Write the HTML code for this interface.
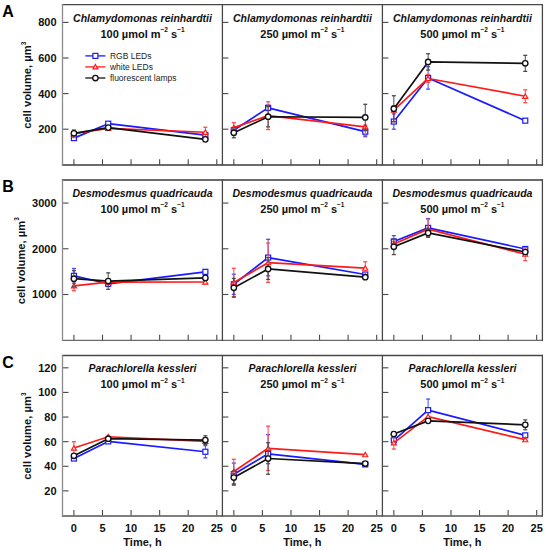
<!DOCTYPE html>
<html><head><meta charset="utf-8"><style>
html,body{margin:0;padding:0;background:#fff;}
body{width:549px;height:550px;overflow:hidden;}
svg{display:block;font-family:"Liberation Sans",sans-serif;}
</style></head><body>
<svg width="549" height="550" viewBox="0 0 549 550" fill="#111">
<line x1="62.50" y1="129.20" x2="68.50" y2="129.20" stroke="#484848" stroke-width="1.1"/>
<line x1="62.50" y1="93.60" x2="68.50" y2="93.60" stroke="#484848" stroke-width="1.1"/>
<line x1="62.50" y1="58.00" x2="68.50" y2="58.00" stroke="#484848" stroke-width="1.1"/>
<line x1="62.50" y1="22.40" x2="68.50" y2="22.40" stroke="#484848" stroke-width="1.1"/>
<line x1="73.93" y1="164.80" x2="73.93" y2="159.30" stroke="#484848" stroke-width="1.1"/>
<line x1="102.50" y1="164.80" x2="102.50" y2="159.30" stroke="#484848" stroke-width="1.1"/>
<line x1="131.07" y1="164.80" x2="131.07" y2="159.30" stroke="#484848" stroke-width="1.1"/>
<line x1="159.64" y1="164.80" x2="159.64" y2="159.30" stroke="#484848" stroke-width="1.1"/>
<line x1="188.21" y1="164.80" x2="188.21" y2="159.30" stroke="#484848" stroke-width="1.1"/>
<line x1="216.79" y1="164.80" x2="216.79" y2="159.30" stroke="#484848" stroke-width="1.1"/>
<g stroke="#4848ff" stroke-width="1"><line x1="73.93" y1="136.68" x2="73.93" y2="139.52"/><line x1="71.93" y1="136.68" x2="75.93" y2="136.68" stroke-width="1.3"/><line x1="71.93" y1="139.52" x2="75.93" y2="139.52" stroke-width="1.3"/></g>
<g stroke="#4848ff" stroke-width="1"><line x1="108.21" y1="121.90" x2="108.21" y2="125.46"/><line x1="106.21" y1="121.90" x2="110.21" y2="121.90" stroke-width="1.3"/><line x1="106.21" y1="125.46" x2="110.21" y2="125.46" stroke-width="1.3"/></g>
<g stroke="#4848ff" stroke-width="1"><line x1="205.36" y1="133.65" x2="205.36" y2="136.50"/><line x1="203.36" y1="133.65" x2="207.36" y2="133.65" stroke-width="1.3"/><line x1="203.36" y1="136.50" x2="207.36" y2="136.50" stroke-width="1.3"/></g>
<polyline points="73.93,138.10 108.21,123.68 205.36,135.07" fill="none" stroke="#1a1aff" stroke-width="1.7" stroke-linejoin="round"/>
<rect x="71.43" y="135.60" width="5.00" height="5.00" fill="#fff" stroke="#1a1aff" stroke-width="1.2"/>
<rect x="105.71" y="121.18" width="5.00" height="5.00" fill="#fff" stroke="#1a1aff" stroke-width="1.2"/>
<rect x="202.86" y="132.57" width="5.00" height="5.00" fill="#fff" stroke="#1a1aff" stroke-width="1.2"/>
<g stroke="#ff4848" stroke-width="1"><line x1="73.93" y1="129.73" x2="73.93" y2="137.57"/><line x1="71.93" y1="129.73" x2="75.93" y2="129.73" stroke-width="1.3"/><line x1="71.93" y1="137.57" x2="75.93" y2="137.57" stroke-width="1.3"/></g>
<g stroke="#ff4848" stroke-width="1"><line x1="108.21" y1="126.89" x2="108.21" y2="129.73"/><line x1="106.21" y1="126.89" x2="110.21" y2="126.89" stroke-width="1.3"/><line x1="106.21" y1="129.73" x2="110.21" y2="129.73" stroke-width="1.3"/></g>
<g stroke="#ff4848" stroke-width="1"><line x1="205.36" y1="127.24" x2="205.36" y2="137.21"/><line x1="203.36" y1="127.24" x2="207.36" y2="127.24" stroke-width="1.3"/><line x1="203.36" y1="137.21" x2="207.36" y2="137.21" stroke-width="1.3"/></g>
<polyline points="73.93,133.65 108.21,128.31 205.36,132.23" fill="none" stroke="#ff1a1a" stroke-width="1.7" stroke-linejoin="round"/>
<polygon points="73.93,131.30 76.43,135.70 71.43,135.70" fill="#fff" stroke="#ff1a1a" stroke-width="1.2" stroke-linejoin="miter"/>
<polygon points="108.21,125.96 110.71,130.36 105.71,130.36" fill="#fff" stroke="#ff1a1a" stroke-width="1.2" stroke-linejoin="miter"/>
<polygon points="205.36,129.88 207.86,134.28 202.86,134.28" fill="#fff" stroke="#ff1a1a" stroke-width="1.2" stroke-linejoin="miter"/>
<g stroke="#4a4a4a" stroke-width="1"><line x1="73.93" y1="131.16" x2="73.93" y2="135.43"/><line x1="71.93" y1="131.16" x2="75.93" y2="131.16" stroke-width="1.3"/><line x1="71.93" y1="135.43" x2="75.93" y2="135.43" stroke-width="1.3"/></g>
<g stroke="#4a4a4a" stroke-width="1"><line x1="108.21" y1="126.17" x2="108.21" y2="129.02"/><line x1="106.21" y1="126.17" x2="110.21" y2="126.17" stroke-width="1.3"/><line x1="106.21" y1="129.02" x2="110.21" y2="129.02" stroke-width="1.3"/></g>
<g stroke="#4a4a4a" stroke-width="1"><line x1="205.36" y1="137.92" x2="205.36" y2="140.77"/><line x1="203.36" y1="137.92" x2="207.36" y2="137.92" stroke-width="1.3"/><line x1="203.36" y1="140.77" x2="207.36" y2="140.77" stroke-width="1.3"/></g>
<polyline points="73.93,133.29 108.21,127.60 205.36,139.35" fill="none" stroke="#111111" stroke-width="1.7" stroke-linejoin="round"/>
<circle cx="73.93" cy="133.29" r="2.7" fill="#fff" stroke="#111111" stroke-width="1.35"/>
<circle cx="108.21" cy="127.60" r="2.7" fill="#fff" stroke="#111111" stroke-width="1.35"/>
<circle cx="205.36" cy="139.35" r="2.7" fill="#fff" stroke="#111111" stroke-width="1.35"/>
<text x="142.50" y="21.90" text-anchor="middle" font-size="10.5" font-weight="bold" font-style="italic">Chlamydomonas reinhardtii</text>
<text x="142.50" y="37.90" text-anchor="middle" font-size="11" font-weight="bold">100 µmol m<tspan font-size="6.5" dy="-5.6">−2</tspan><tspan dy="5.6"> s</tspan><tspan font-size="6.5" dy="-5.6">−1</tspan></text>
<line x1="222.40" y1="129.20" x2="228.40" y2="129.20" stroke="#484848" stroke-width="1.1"/>
<line x1="222.40" y1="93.60" x2="228.40" y2="93.60" stroke="#484848" stroke-width="1.1"/>
<line x1="222.40" y1="58.00" x2="228.40" y2="58.00" stroke="#484848" stroke-width="1.1"/>
<line x1="222.40" y1="22.40" x2="228.40" y2="22.40" stroke="#484848" stroke-width="1.1"/>
<line x1="233.83" y1="164.80" x2="233.83" y2="159.30" stroke="#484848" stroke-width="1.1"/>
<line x1="262.40" y1="164.80" x2="262.40" y2="159.30" stroke="#484848" stroke-width="1.1"/>
<line x1="290.97" y1="164.80" x2="290.97" y2="159.30" stroke="#484848" stroke-width="1.1"/>
<line x1="319.54" y1="164.80" x2="319.54" y2="159.30" stroke="#484848" stroke-width="1.1"/>
<line x1="348.11" y1="164.80" x2="348.11" y2="159.30" stroke="#484848" stroke-width="1.1"/>
<line x1="376.69" y1="164.80" x2="376.69" y2="159.30" stroke="#484848" stroke-width="1.1"/>
<g stroke="#4848ff" stroke-width="1"><line x1="233.83" y1="128.49" x2="233.83" y2="132.05"/><line x1="231.83" y1="128.49" x2="235.83" y2="128.49" stroke-width="1.3"/><line x1="231.83" y1="132.05" x2="235.83" y2="132.05" stroke-width="1.3"/></g>
<g stroke="#4848ff" stroke-width="1"><line x1="268.11" y1="105.17" x2="268.11" y2="110.51"/><line x1="266.11" y1="105.17" x2="270.11" y2="105.17" stroke-width="1.3"/><line x1="266.11" y1="110.51" x2="270.11" y2="110.51" stroke-width="1.3"/></g>
<g stroke="#4848ff" stroke-width="1"><line x1="365.26" y1="126.71" x2="365.26" y2="136.68"/><line x1="363.26" y1="126.71" x2="367.26" y2="126.71" stroke-width="1.3"/><line x1="363.26" y1="136.68" x2="367.26" y2="136.68" stroke-width="1.3"/></g>
<polyline points="233.83,130.27 268.11,107.84 365.26,131.69" fill="none" stroke="#1a1aff" stroke-width="1.7" stroke-linejoin="round"/>
<rect x="231.33" y="127.77" width="5.00" height="5.00" fill="#fff" stroke="#1a1aff" stroke-width="1.2"/>
<rect x="265.61" y="105.34" width="5.00" height="5.00" fill="#fff" stroke="#1a1aff" stroke-width="1.2"/>
<rect x="362.76" y="129.19" width="5.00" height="5.00" fill="#fff" stroke="#1a1aff" stroke-width="1.2"/>
<g stroke="#ff4848" stroke-width="1"><line x1="233.83" y1="122.61" x2="233.83" y2="132.58"/><line x1="231.83" y1="122.61" x2="235.83" y2="122.61" stroke-width="1.3"/><line x1="231.83" y1="132.58" x2="235.83" y2="132.58" stroke-width="1.3"/></g>
<g stroke="#ff4848" stroke-width="1"><line x1="268.11" y1="101.79" x2="268.11" y2="129.56"/><line x1="266.11" y1="101.79" x2="270.11" y2="101.79" stroke-width="1.3"/><line x1="266.11" y1="129.56" x2="270.11" y2="129.56" stroke-width="1.3"/></g>
<g stroke="#ff4848" stroke-width="1"><line x1="365.26" y1="125.11" x2="365.26" y2="135.61"/><line x1="363.26" y1="125.11" x2="367.26" y2="125.11" stroke-width="1.3"/><line x1="363.26" y1="135.61" x2="367.26" y2="135.61" stroke-width="1.3"/></g>
<polyline points="233.83,127.60 268.11,115.67 365.26,126.89" fill="none" stroke="#ff1a1a" stroke-width="1.7" stroke-linejoin="round"/>
<polygon points="233.83,125.25 236.33,129.65 231.33,129.65" fill="#fff" stroke="#ff1a1a" stroke-width="1.2" stroke-linejoin="miter"/>
<polygon points="268.11,113.32 270.61,117.72 265.61,117.72" fill="#fff" stroke="#ff1a1a" stroke-width="1.2" stroke-linejoin="miter"/>
<polygon points="365.26,124.54 367.76,128.94 362.76,128.94" fill="#fff" stroke="#ff1a1a" stroke-width="1.2" stroke-linejoin="miter"/>
<g stroke="#4a4a4a" stroke-width="1"><line x1="233.83" y1="127.78" x2="233.83" y2="137.74"/><line x1="231.83" y1="127.78" x2="235.83" y2="127.78" stroke-width="1.3"/><line x1="231.83" y1="137.74" x2="235.83" y2="137.74" stroke-width="1.3"/></g>
<g stroke="#4a4a4a" stroke-width="1"><line x1="268.11" y1="106.59" x2="268.11" y2="126.89"/><line x1="266.11" y1="106.59" x2="270.11" y2="106.59" stroke-width="1.3"/><line x1="266.11" y1="126.89" x2="270.11" y2="126.89" stroke-width="1.3"/></g>
<g stroke="#4a4a4a" stroke-width="1"><line x1="365.26" y1="104.28" x2="365.26" y2="130.62"/><line x1="363.26" y1="104.28" x2="367.26" y2="104.28" stroke-width="1.3"/><line x1="363.26" y1="130.62" x2="367.26" y2="130.62" stroke-width="1.3"/></g>
<polyline points="233.83,132.76 268.11,116.74 365.26,117.45" fill="none" stroke="#111111" stroke-width="1.7" stroke-linejoin="round"/>
<circle cx="233.83" cy="132.76" r="2.7" fill="#fff" stroke="#111111" stroke-width="1.35"/>
<circle cx="268.11" cy="116.74" r="2.7" fill="#fff" stroke="#111111" stroke-width="1.35"/>
<circle cx="365.26" cy="117.45" r="2.7" fill="#fff" stroke="#111111" stroke-width="1.35"/>
<text x="302.40" y="21.90" text-anchor="middle" font-size="10.5" font-weight="bold" font-style="italic">Chlamydomonas reinhardtii</text>
<text x="302.40" y="37.90" text-anchor="middle" font-size="11" font-weight="bold">250 µmol m<tspan font-size="6.5" dy="-5.6">−2</tspan><tspan dy="5.6"> s</tspan><tspan font-size="6.5" dy="-5.6">−1</tspan></text>
<line x1="382.40" y1="129.20" x2="388.40" y2="129.20" stroke="#484848" stroke-width="1.1"/>
<line x1="382.40" y1="93.60" x2="388.40" y2="93.60" stroke="#484848" stroke-width="1.1"/>
<line x1="382.40" y1="58.00" x2="388.40" y2="58.00" stroke="#484848" stroke-width="1.1"/>
<line x1="382.40" y1="22.40" x2="388.40" y2="22.40" stroke="#484848" stroke-width="1.1"/>
<line x1="393.83" y1="164.80" x2="393.83" y2="159.30" stroke="#484848" stroke-width="1.1"/>
<line x1="422.40" y1="164.80" x2="422.40" y2="159.30" stroke="#484848" stroke-width="1.1"/>
<line x1="450.97" y1="164.80" x2="450.97" y2="159.30" stroke="#484848" stroke-width="1.1"/>
<line x1="479.54" y1="164.80" x2="479.54" y2="159.30" stroke="#484848" stroke-width="1.1"/>
<line x1="508.11" y1="164.80" x2="508.11" y2="159.30" stroke="#484848" stroke-width="1.1"/>
<line x1="536.69" y1="164.80" x2="536.69" y2="159.30" stroke="#484848" stroke-width="1.1"/>
<g stroke="#4848ff" stroke-width="1"><line x1="393.83" y1="113.89" x2="393.83" y2="129.20"/><line x1="391.83" y1="113.89" x2="395.83" y2="113.89" stroke-width="1.3"/><line x1="391.83" y1="129.20" x2="395.83" y2="129.20" stroke-width="1.3"/></g>
<g stroke="#4848ff" stroke-width="1"><line x1="428.11" y1="66.72" x2="428.11" y2="89.15"/><line x1="426.11" y1="66.72" x2="430.11" y2="66.72" stroke-width="1.3"/><line x1="426.11" y1="89.15" x2="430.11" y2="89.15" stroke-width="1.3"/></g>
<g stroke="#4848ff" stroke-width="1"><line x1="525.26" y1="119.23" x2="525.26" y2="122.08"/><line x1="523.26" y1="119.23" x2="527.26" y2="119.23" stroke-width="1.3"/><line x1="523.26" y1="122.08" x2="527.26" y2="122.08" stroke-width="1.3"/></g>
<polyline points="393.83,121.55 428.11,77.94 525.26,120.66" fill="none" stroke="#1a1aff" stroke-width="1.7" stroke-linejoin="round"/>
<rect x="391.33" y="119.05" width="5.00" height="5.00" fill="#fff" stroke="#1a1aff" stroke-width="1.2"/>
<rect x="425.61" y="75.44" width="5.00" height="5.00" fill="#fff" stroke="#1a1aff" stroke-width="1.2"/>
<rect x="522.76" y="118.16" width="5.00" height="5.00" fill="#fff" stroke="#1a1aff" stroke-width="1.2"/>
<g stroke="#ff4848" stroke-width="1"><line x1="393.83" y1="105.70" x2="393.83" y2="121.72"/><line x1="391.83" y1="105.70" x2="395.83" y2="105.70" stroke-width="1.3"/><line x1="391.83" y1="121.72" x2="395.83" y2="121.72" stroke-width="1.3"/></g>
<g stroke="#ff4848" stroke-width="1"><line x1="428.11" y1="74.55" x2="428.11" y2="82.39"/><line x1="426.11" y1="74.55" x2="430.11" y2="74.55" stroke-width="1.3"/><line x1="426.11" y1="82.39" x2="430.11" y2="82.39" stroke-width="1.3"/></g>
<g stroke="#ff4848" stroke-width="1"><line x1="525.26" y1="89.86" x2="525.26" y2="102.68"/><line x1="523.26" y1="89.86" x2="527.26" y2="89.86" stroke-width="1.3"/><line x1="523.26" y1="102.68" x2="527.26" y2="102.68" stroke-width="1.3"/></g>
<polyline points="393.83,110.15 428.11,78.47 525.26,96.27" fill="none" stroke="#ff1a1a" stroke-width="1.7" stroke-linejoin="round"/>
<polygon points="393.83,107.80 396.33,112.20 391.33,112.20" fill="#fff" stroke="#ff1a1a" stroke-width="1.2" stroke-linejoin="miter"/>
<polygon points="428.11,76.12 430.61,80.52 425.61,80.52" fill="#fff" stroke="#ff1a1a" stroke-width="1.2" stroke-linejoin="miter"/>
<polygon points="525.26,93.92 527.76,98.32 522.76,98.32" fill="#fff" stroke="#ff1a1a" stroke-width="1.2" stroke-linejoin="miter"/>
<g stroke="#4a4a4a" stroke-width="1"><line x1="393.83" y1="95.74" x2="393.83" y2="121.72"/><line x1="391.83" y1="95.74" x2="395.83" y2="95.74" stroke-width="1.3"/><line x1="391.83" y1="121.72" x2="395.83" y2="121.72" stroke-width="1.3"/></g>
<g stroke="#4a4a4a" stroke-width="1"><line x1="428.11" y1="53.73" x2="428.11" y2="70.10"/><line x1="426.11" y1="53.73" x2="430.11" y2="53.73" stroke-width="1.3"/><line x1="426.11" y1="70.10" x2="430.11" y2="70.10" stroke-width="1.3"/></g>
<g stroke="#4a4a4a" stroke-width="1"><line x1="525.26" y1="55.33" x2="525.26" y2="71.35"/><line x1="523.26" y1="55.33" x2="527.26" y2="55.33" stroke-width="1.3"/><line x1="523.26" y1="71.35" x2="527.26" y2="71.35" stroke-width="1.3"/></g>
<polyline points="393.83,108.73 428.11,61.92 525.26,63.34" fill="none" stroke="#111111" stroke-width="1.7" stroke-linejoin="round"/>
<circle cx="393.83" cy="108.73" r="2.7" fill="#fff" stroke="#111111" stroke-width="1.35"/>
<circle cx="428.11" cy="61.92" r="2.7" fill="#fff" stroke="#111111" stroke-width="1.35"/>
<circle cx="525.26" cy="63.34" r="2.7" fill="#fff" stroke="#111111" stroke-width="1.35"/>
<text x="462.40" y="21.90" text-anchor="middle" font-size="10.5" font-weight="bold" font-style="italic">Chlamydomonas reinhardtii</text>
<text x="462.40" y="37.90" text-anchor="middle" font-size="11" font-weight="bold">500 µmol m<tspan font-size="6.5" dy="-5.6">−2</tspan><tspan dy="5.6"> s</tspan><tspan font-size="6.5" dy="-5.6">−1</tspan></text>
<text x="56.6" y="133.10" text-anchor="end" font-size="11" font-weight="bold">200</text>
<text x="56.6" y="97.50" text-anchor="end" font-size="11" font-weight="bold">400</text>
<text x="56.6" y="61.90" text-anchor="end" font-size="11" font-weight="bold">600</text>
<text x="56.6" y="26.30" text-anchor="end" font-size="11" font-weight="bold">800</text>
<text transform="translate(31.0,85.30) rotate(-90)" text-anchor="middle" font-size="11.2" font-weight="bold">cell volume, µm<tspan font-size="6.4" dy="-5.5">3</tspan></text>
<text x="2.2" y="16.60" font-size="16" font-weight="bold" fill="#000">A</text>
<line x1="62.50" y1="294.49" x2="68.50" y2="294.49" stroke="#484848" stroke-width="1.1"/>
<line x1="62.50" y1="248.77" x2="68.50" y2="248.77" stroke="#484848" stroke-width="1.1"/>
<line x1="62.50" y1="203.06" x2="68.50" y2="203.06" stroke="#484848" stroke-width="1.1"/>
<line x1="73.93" y1="340.20" x2="73.93" y2="334.70" stroke="#484848" stroke-width="1.1"/>
<line x1="102.50" y1="340.20" x2="102.50" y2="334.70" stroke="#484848" stroke-width="1.1"/>
<line x1="131.07" y1="340.20" x2="131.07" y2="334.70" stroke="#484848" stroke-width="1.1"/>
<line x1="159.64" y1="340.20" x2="159.64" y2="334.70" stroke="#484848" stroke-width="1.1"/>
<line x1="188.21" y1="340.20" x2="188.21" y2="334.70" stroke="#484848" stroke-width="1.1"/>
<line x1="216.79" y1="340.20" x2="216.79" y2="334.70" stroke="#484848" stroke-width="1.1"/>
<g stroke="#4848ff" stroke-width="1"><line x1="73.93" y1="268.52" x2="73.93" y2="283.15"/><line x1="71.93" y1="268.52" x2="75.93" y2="268.52" stroke-width="1.3"/><line x1="71.93" y1="283.15" x2="75.93" y2="283.15" stroke-width="1.3"/></g>
<g stroke="#4848ff" stroke-width="1"><line x1="108.21" y1="281.05" x2="108.21" y2="286.53"/><line x1="106.21" y1="281.05" x2="110.21" y2="281.05" stroke-width="1.3"/><line x1="106.21" y1="286.53" x2="110.21" y2="286.53" stroke-width="1.3"/></g>
<g stroke="#4848ff" stroke-width="1"><line x1="205.36" y1="269.98" x2="205.36" y2="273.64"/><line x1="203.36" y1="269.98" x2="207.36" y2="269.98" stroke-width="1.3"/><line x1="203.36" y1="273.64" x2="207.36" y2="273.64" stroke-width="1.3"/></g>
<polyline points="73.93,275.83 108.21,283.79 205.36,271.81" fill="none" stroke="#1a1aff" stroke-width="1.7" stroke-linejoin="round"/>
<rect x="71.43" y="273.33" width="5.00" height="5.00" fill="#fff" stroke="#1a1aff" stroke-width="1.2"/>
<rect x="105.71" y="281.29" width="5.00" height="5.00" fill="#fff" stroke="#1a1aff" stroke-width="1.2"/>
<rect x="202.86" y="269.31" width="5.00" height="5.00" fill="#fff" stroke="#1a1aff" stroke-width="1.2"/>
<g stroke="#ff4848" stroke-width="1"><line x1="73.93" y1="280.91" x2="73.93" y2="290.69"/><line x1="71.93" y1="280.91" x2="75.93" y2="280.91" stroke-width="1.3"/><line x1="71.93" y1="290.69" x2="75.93" y2="290.69" stroke-width="1.3"/></g>
<g stroke="#ff4848" stroke-width="1"><line x1="108.21" y1="280.31" x2="108.21" y2="283.97"/><line x1="106.21" y1="280.31" x2="110.21" y2="280.31" stroke-width="1.3"/><line x1="106.21" y1="283.97" x2="110.21" y2="283.97" stroke-width="1.3"/></g>
<g stroke="#ff4848" stroke-width="1"><line x1="205.36" y1="280.18" x2="205.36" y2="283.83"/><line x1="203.36" y1="280.18" x2="207.36" y2="280.18" stroke-width="1.3"/><line x1="203.36" y1="283.83" x2="207.36" y2="283.83" stroke-width="1.3"/></g>
<polyline points="73.93,285.80 108.21,282.14 205.36,282.01" fill="none" stroke="#ff1a1a" stroke-width="1.7" stroke-linejoin="round"/>
<polygon points="73.93,283.45 76.43,287.85 71.43,287.85" fill="#fff" stroke="#ff1a1a" stroke-width="1.2" stroke-linejoin="miter"/>
<polygon points="108.21,279.79 110.71,284.19 105.71,284.19" fill="#fff" stroke="#ff1a1a" stroke-width="1.2" stroke-linejoin="miter"/>
<polygon points="205.36,279.66 207.86,284.06 202.86,284.06" fill="#fff" stroke="#ff1a1a" stroke-width="1.2" stroke-linejoin="miter"/>
<g stroke="#4a4a4a" stroke-width="1"><line x1="73.93" y1="270.62" x2="73.93" y2="286.81"/><line x1="71.93" y1="270.62" x2="75.93" y2="270.62" stroke-width="1.3"/><line x1="71.93" y1="286.81" x2="75.93" y2="286.81" stroke-width="1.3"/></g>
<g stroke="#4a4a4a" stroke-width="1"><line x1="108.21" y1="272.86" x2="108.21" y2="289.32"/><line x1="106.21" y1="272.86" x2="110.21" y2="272.86" stroke-width="1.3"/><line x1="106.21" y1="289.32" x2="110.21" y2="289.32" stroke-width="1.3"/></g>
<g stroke="#4a4a4a" stroke-width="1"><line x1="205.36" y1="276.06" x2="205.36" y2="279.72"/><line x1="203.36" y1="276.06" x2="207.36" y2="276.06" stroke-width="1.3"/><line x1="203.36" y1="279.72" x2="207.36" y2="279.72" stroke-width="1.3"/></g>
<polyline points="73.93,278.71 108.21,281.09 205.36,277.89" fill="none" stroke="#111111" stroke-width="1.7" stroke-linejoin="round"/>
<circle cx="73.93" cy="278.71" r="2.7" fill="#fff" stroke="#111111" stroke-width="1.35"/>
<circle cx="108.21" cy="281.09" r="2.7" fill="#fff" stroke="#111111" stroke-width="1.35"/>
<circle cx="205.36" cy="277.89" r="2.7" fill="#fff" stroke="#111111" stroke-width="1.35"/>
<text x="142.50" y="196.70" text-anchor="middle" font-size="10.5" font-weight="bold" font-style="italic">Desmodesmus quadricauda</text>
<text x="142.50" y="212.90" text-anchor="middle" font-size="11" font-weight="bold">100 µmol m<tspan font-size="6.5" dy="-5.6">−2</tspan><tspan dy="5.6"> s</tspan><tspan font-size="6.5" dy="-5.6">−1</tspan></text>
<line x1="222.40" y1="294.49" x2="228.40" y2="294.49" stroke="#484848" stroke-width="1.1"/>
<line x1="222.40" y1="248.77" x2="228.40" y2="248.77" stroke="#484848" stroke-width="1.1"/>
<line x1="222.40" y1="203.06" x2="228.40" y2="203.06" stroke="#484848" stroke-width="1.1"/>
<line x1="233.83" y1="340.20" x2="233.83" y2="334.70" stroke="#484848" stroke-width="1.1"/>
<line x1="262.40" y1="340.20" x2="262.40" y2="334.70" stroke="#484848" stroke-width="1.1"/>
<line x1="290.97" y1="340.20" x2="290.97" y2="334.70" stroke="#484848" stroke-width="1.1"/>
<line x1="319.54" y1="340.20" x2="319.54" y2="334.70" stroke="#484848" stroke-width="1.1"/>
<line x1="348.11" y1="340.20" x2="348.11" y2="334.70" stroke="#484848" stroke-width="1.1"/>
<line x1="376.69" y1="340.20" x2="376.69" y2="334.70" stroke="#484848" stroke-width="1.1"/>
<g stroke="#4848ff" stroke-width="1"><line x1="233.83" y1="274.23" x2="233.83" y2="294.35"/><line x1="231.83" y1="274.23" x2="235.83" y2="274.23" stroke-width="1.3"/><line x1="231.83" y1="294.35" x2="235.83" y2="294.35" stroke-width="1.3"/></g>
<g stroke="#4848ff" stroke-width="1"><line x1="268.11" y1="239.31" x2="268.11" y2="275.88"/><line x1="266.11" y1="239.31" x2="270.11" y2="239.31" stroke-width="1.3"/><line x1="266.11" y1="275.88" x2="270.11" y2="275.88" stroke-width="1.3"/></g>
<g stroke="#4848ff" stroke-width="1"><line x1="365.26" y1="272.68" x2="365.26" y2="276.34"/><line x1="363.26" y1="272.68" x2="367.26" y2="272.68" stroke-width="1.3"/><line x1="363.26" y1="276.34" x2="367.26" y2="276.34" stroke-width="1.3"/></g>
<polyline points="233.83,284.29 268.11,257.59 365.26,274.51" fill="none" stroke="#1a1aff" stroke-width="1.7" stroke-linejoin="round"/>
<rect x="231.33" y="281.79" width="5.00" height="5.00" fill="#fff" stroke="#1a1aff" stroke-width="1.2"/>
<rect x="265.61" y="255.09" width="5.00" height="5.00" fill="#fff" stroke="#1a1aff" stroke-width="1.2"/>
<rect x="362.76" y="272.01" width="5.00" height="5.00" fill="#fff" stroke="#1a1aff" stroke-width="1.2"/>
<g stroke="#ff4848" stroke-width="1"><line x1="233.83" y1="268.25" x2="233.83" y2="296.59"/><line x1="231.83" y1="268.25" x2="235.83" y2="268.25" stroke-width="1.3"/><line x1="231.83" y1="296.59" x2="235.83" y2="296.59" stroke-width="1.3"/></g>
<g stroke="#ff4848" stroke-width="1"><line x1="268.11" y1="243.06" x2="268.11" y2="282.37"/><line x1="266.11" y1="243.06" x2="270.11" y2="243.06" stroke-width="1.3"/><line x1="266.11" y1="282.37" x2="270.11" y2="282.37" stroke-width="1.3"/></g>
<g stroke="#ff4848" stroke-width="1"><line x1="365.26" y1="261.80" x2="365.26" y2="274.60"/><line x1="363.26" y1="261.80" x2="367.26" y2="261.80" stroke-width="1.3"/><line x1="363.26" y1="274.60" x2="367.26" y2="274.60" stroke-width="1.3"/></g>
<polyline points="233.83,282.42 268.11,262.71 365.26,268.20" fill="none" stroke="#ff1a1a" stroke-width="1.7" stroke-linejoin="round"/>
<polygon points="233.83,280.07 236.33,284.47 231.33,284.47" fill="#fff" stroke="#ff1a1a" stroke-width="1.2" stroke-linejoin="miter"/>
<polygon points="268.11,260.36 270.61,264.76 265.61,264.76" fill="#fff" stroke="#ff1a1a" stroke-width="1.2" stroke-linejoin="miter"/>
<polygon points="365.26,265.85 367.76,270.25 362.76,270.25" fill="#fff" stroke="#ff1a1a" stroke-width="1.2" stroke-linejoin="miter"/>
<g stroke="#4a4a4a" stroke-width="1"><line x1="233.83" y1="278.44" x2="233.83" y2="297.18"/><line x1="231.83" y1="278.44" x2="235.83" y2="278.44" stroke-width="1.3"/><line x1="231.83" y1="297.18" x2="235.83" y2="297.18" stroke-width="1.3"/></g>
<g stroke="#4a4a4a" stroke-width="1"><line x1="268.11" y1="257.50" x2="268.11" y2="279.45"/><line x1="266.11" y1="257.50" x2="270.11" y2="257.50" stroke-width="1.3"/><line x1="266.11" y1="279.45" x2="270.11" y2="279.45" stroke-width="1.3"/></g>
<g stroke="#4a4a4a" stroke-width="1"><line x1="365.26" y1="275.38" x2="365.26" y2="279.03"/><line x1="363.26" y1="275.38" x2="367.26" y2="275.38" stroke-width="1.3"/><line x1="363.26" y1="279.03" x2="367.26" y2="279.03" stroke-width="1.3"/></g>
<polyline points="233.83,287.81 268.11,268.93 365.26,277.21" fill="none" stroke="#111111" stroke-width="1.7" stroke-linejoin="round"/>
<circle cx="233.83" cy="287.81" r="2.7" fill="#fff" stroke="#111111" stroke-width="1.35"/>
<circle cx="268.11" cy="268.93" r="2.7" fill="#fff" stroke="#111111" stroke-width="1.35"/>
<circle cx="365.26" cy="277.21" r="2.7" fill="#fff" stroke="#111111" stroke-width="1.35"/>
<text x="302.40" y="196.70" text-anchor="middle" font-size="10.5" font-weight="bold" font-style="italic">Desmodesmus quadricauda</text>
<text x="302.40" y="212.90" text-anchor="middle" font-size="11" font-weight="bold">250 µmol m<tspan font-size="6.5" dy="-5.6">−2</tspan><tspan dy="5.6"> s</tspan><tspan font-size="6.5" dy="-5.6">−1</tspan></text>
<line x1="382.40" y1="294.49" x2="388.40" y2="294.49" stroke="#484848" stroke-width="1.1"/>
<line x1="382.40" y1="248.77" x2="388.40" y2="248.77" stroke="#484848" stroke-width="1.1"/>
<line x1="382.40" y1="203.06" x2="388.40" y2="203.06" stroke="#484848" stroke-width="1.1"/>
<line x1="393.83" y1="340.20" x2="393.83" y2="334.70" stroke="#484848" stroke-width="1.1"/>
<line x1="422.40" y1="340.20" x2="422.40" y2="334.70" stroke="#484848" stroke-width="1.1"/>
<line x1="450.97" y1="340.20" x2="450.97" y2="334.70" stroke="#484848" stroke-width="1.1"/>
<line x1="479.54" y1="340.20" x2="479.54" y2="334.70" stroke="#484848" stroke-width="1.1"/>
<line x1="508.11" y1="340.20" x2="508.11" y2="334.70" stroke="#484848" stroke-width="1.1"/>
<line x1="536.69" y1="340.20" x2="536.69" y2="334.70" stroke="#484848" stroke-width="1.1"/>
<g stroke="#4848ff" stroke-width="1"><line x1="393.83" y1="235.65" x2="393.83" y2="247.26"/><line x1="391.83" y1="235.65" x2="395.83" y2="235.65" stroke-width="1.3"/><line x1="391.83" y1="247.26" x2="395.83" y2="247.26" stroke-width="1.3"/></g>
<g stroke="#4848ff" stroke-width="1"><line x1="428.11" y1="218.51" x2="428.11" y2="237.25"/><line x1="426.11" y1="218.51" x2="430.11" y2="218.51" stroke-width="1.3"/><line x1="426.11" y1="237.25" x2="430.11" y2="237.25" stroke-width="1.3"/></g>
<g stroke="#4848ff" stroke-width="1"><line x1="525.26" y1="247.17" x2="525.26" y2="250.83"/><line x1="523.26" y1="247.17" x2="527.26" y2="247.17" stroke-width="1.3"/><line x1="523.26" y1="250.83" x2="527.26" y2="250.83" stroke-width="1.3"/></g>
<polyline points="393.83,241.46 428.11,227.88 525.26,249.00" fill="none" stroke="#1a1aff" stroke-width="1.7" stroke-linejoin="round"/>
<rect x="391.33" y="238.96" width="5.00" height="5.00" fill="#fff" stroke="#1a1aff" stroke-width="1.2"/>
<rect x="425.61" y="225.38" width="5.00" height="5.00" fill="#fff" stroke="#1a1aff" stroke-width="1.2"/>
<rect x="522.76" y="246.50" width="5.00" height="5.00" fill="#fff" stroke="#1a1aff" stroke-width="1.2"/>
<g stroke="#ff4848" stroke-width="1"><line x1="393.83" y1="241.27" x2="393.83" y2="246.76"/><line x1="391.83" y1="241.27" x2="395.83" y2="241.27" stroke-width="1.3"/><line x1="391.83" y1="246.76" x2="395.83" y2="246.76" stroke-width="1.3"/></g>
<g stroke="#ff4848" stroke-width="1"><line x1="428.11" y1="219.19" x2="428.11" y2="235.97"/><line x1="426.11" y1="219.19" x2="430.11" y2="219.19" stroke-width="1.3"/><line x1="426.11" y1="235.97" x2="430.11" y2="235.97" stroke-width="1.3"/></g>
<g stroke="#ff4848" stroke-width="1"><line x1="525.26" y1="247.81" x2="525.26" y2="260.61"/><line x1="523.26" y1="247.81" x2="527.26" y2="247.81" stroke-width="1.3"/><line x1="523.26" y1="260.61" x2="527.26" y2="260.61" stroke-width="1.3"/></g>
<polyline points="393.83,244.02 428.11,229.11 525.26,254.21" fill="none" stroke="#ff1a1a" stroke-width="1.7" stroke-linejoin="round"/>
<polygon points="393.83,241.67 396.33,246.07 391.33,246.07" fill="#fff" stroke="#ff1a1a" stroke-width="1.2" stroke-linejoin="miter"/>
<polygon points="428.11,226.76 430.61,231.16 425.61,231.16" fill="#fff" stroke="#ff1a1a" stroke-width="1.2" stroke-linejoin="miter"/>
<polygon points="525.26,251.86 527.76,256.26 522.76,256.26" fill="#fff" stroke="#ff1a1a" stroke-width="1.2" stroke-linejoin="miter"/>
<g stroke="#4a4a4a" stroke-width="1"><line x1="393.83" y1="239.03" x2="393.83" y2="254.58"/><line x1="391.83" y1="239.03" x2="395.83" y2="239.03" stroke-width="1.3"/><line x1="391.83" y1="254.58" x2="395.83" y2="254.58" stroke-width="1.3"/></g>
<g stroke="#4a4a4a" stroke-width="1"><line x1="428.11" y1="228.79" x2="428.11" y2="237.02"/><line x1="426.11" y1="228.79" x2="430.11" y2="228.79" stroke-width="1.3"/><line x1="426.11" y1="237.02" x2="430.11" y2="237.02" stroke-width="1.3"/></g>
<g stroke="#4a4a4a" stroke-width="1"><line x1="525.26" y1="250.19" x2="525.26" y2="253.85"/><line x1="523.26" y1="250.19" x2="527.26" y2="250.19" stroke-width="1.3"/><line x1="523.26" y1="253.85" x2="527.26" y2="253.85" stroke-width="1.3"/></g>
<polyline points="393.83,246.81 428.11,232.91 525.26,252.02" fill="none" stroke="#111111" stroke-width="1.7" stroke-linejoin="round"/>
<circle cx="393.83" cy="246.81" r="2.7" fill="#fff" stroke="#111111" stroke-width="1.35"/>
<circle cx="428.11" cy="232.91" r="2.7" fill="#fff" stroke="#111111" stroke-width="1.35"/>
<circle cx="525.26" cy="252.02" r="2.7" fill="#fff" stroke="#111111" stroke-width="1.35"/>
<text x="462.40" y="196.70" text-anchor="middle" font-size="10.5" font-weight="bold" font-style="italic">Desmodesmus quadricauda</text>
<text x="462.40" y="212.90" text-anchor="middle" font-size="11" font-weight="bold">500 µmol m<tspan font-size="6.5" dy="-5.6">−2</tspan><tspan dy="5.6"> s</tspan><tspan font-size="6.5" dy="-5.6">−1</tspan></text>
<text x="56.6" y="298.39" text-anchor="end" font-size="11" font-weight="bold">1000</text>
<text x="56.6" y="252.67" text-anchor="end" font-size="11" font-weight="bold">2000</text>
<text x="56.6" y="206.96" text-anchor="end" font-size="11" font-weight="bold">3000</text>
<text transform="translate(24.7,260.80) rotate(-90)" text-anchor="middle" font-size="11.2" font-weight="bold">cell volume, µm<tspan font-size="6.4" dy="-5.5">3</tspan></text>
<text x="2.2" y="192.20" font-size="16" font-weight="bold" fill="#000">B</text>
<line x1="62.50" y1="490.88" x2="68.50" y2="490.88" stroke="#484848" stroke-width="1.1"/>
<line x1="62.50" y1="466.27" x2="68.50" y2="466.27" stroke="#484848" stroke-width="1.1"/>
<line x1="62.50" y1="441.65" x2="68.50" y2="441.65" stroke="#484848" stroke-width="1.1"/>
<line x1="62.50" y1="417.04" x2="68.50" y2="417.04" stroke="#484848" stroke-width="1.1"/>
<line x1="62.50" y1="392.42" x2="68.50" y2="392.42" stroke="#484848" stroke-width="1.1"/>
<line x1="62.50" y1="367.81" x2="68.50" y2="367.81" stroke="#484848" stroke-width="1.1"/>
<line x1="73.93" y1="515.50" x2="73.93" y2="510.00" stroke="#484848" stroke-width="1.1"/>
<line x1="102.50" y1="515.50" x2="102.50" y2="510.00" stroke="#484848" stroke-width="1.1"/>
<line x1="131.07" y1="515.50" x2="131.07" y2="510.00" stroke="#484848" stroke-width="1.1"/>
<line x1="159.64" y1="515.50" x2="159.64" y2="510.00" stroke="#484848" stroke-width="1.1"/>
<line x1="188.21" y1="515.50" x2="188.21" y2="510.00" stroke="#484848" stroke-width="1.1"/>
<line x1="216.79" y1="515.50" x2="216.79" y2="510.00" stroke="#484848" stroke-width="1.1"/>
<g stroke="#4848ff" stroke-width="1"><line x1="205.36" y1="445.59" x2="205.36" y2="457.90"/><line x1="203.36" y1="445.59" x2="207.36" y2="445.59" stroke-width="1.3"/><line x1="203.36" y1="457.90" x2="207.36" y2="457.90" stroke-width="1.3"/></g>
<polyline points="73.93,458.52 108.21,441.41 205.36,451.75" fill="none" stroke="#1a1aff" stroke-width="1.7" stroke-linejoin="round"/>
<rect x="71.43" y="456.02" width="5.00" height="5.00" fill="#fff" stroke="#1a1aff" stroke-width="1.2"/>
<rect x="105.71" y="438.91" width="5.00" height="5.00" fill="#fff" stroke="#1a1aff" stroke-width="1.2"/>
<rect x="202.86" y="449.25" width="5.00" height="5.00" fill="#fff" stroke="#1a1aff" stroke-width="1.2"/>
<g stroke="#ff4848" stroke-width="1"><line x1="73.93" y1="441.65" x2="73.93" y2="454.45"/><line x1="71.93" y1="441.65" x2="75.93" y2="441.65" stroke-width="1.3"/><line x1="71.93" y1="454.45" x2="75.93" y2="454.45" stroke-width="1.3"/></g>
<polyline points="73.93,448.05 108.21,436.73 205.36,441.41" fill="none" stroke="#ff1a1a" stroke-width="1.7" stroke-linejoin="round"/>
<polygon points="73.93,445.70 76.43,450.10 71.43,450.10" fill="#fff" stroke="#ff1a1a" stroke-width="1.2" stroke-linejoin="miter"/>
<polygon points="108.21,434.38 110.71,438.78 105.71,438.78" fill="#fff" stroke="#ff1a1a" stroke-width="1.2" stroke-linejoin="miter"/>
<polygon points="205.36,439.06 207.86,443.46 202.86,443.46" fill="#fff" stroke="#ff1a1a" stroke-width="1.2" stroke-linejoin="miter"/>
<g stroke="#4a4a4a" stroke-width="1"><line x1="205.36" y1="435.75" x2="205.36" y2="444.36"/><line x1="203.36" y1="435.75" x2="207.36" y2="435.75" stroke-width="1.3"/><line x1="203.36" y1="444.36" x2="207.36" y2="444.36" stroke-width="1.3"/></g>
<polyline points="73.93,455.81 108.21,438.70 205.36,440.05" fill="none" stroke="#111111" stroke-width="1.7" stroke-linejoin="round"/>
<circle cx="73.93" cy="455.81" r="2.7" fill="#fff" stroke="#111111" stroke-width="1.35"/>
<circle cx="108.21" cy="438.70" r="2.7" fill="#fff" stroke="#111111" stroke-width="1.35"/>
<circle cx="205.36" cy="440.05" r="2.7" fill="#fff" stroke="#111111" stroke-width="1.35"/>
<text x="142.50" y="372.30" text-anchor="middle" font-size="10.5" font-weight="bold" font-style="italic">Parachlorella kessleri</text>
<text x="142.50" y="388.30" text-anchor="middle" font-size="11" font-weight="bold">100 µmol m<tspan font-size="6.5" dy="-5.6">−2</tspan><tspan dy="5.6"> s</tspan><tspan font-size="6.5" dy="-5.6">−1</tspan></text>
<line x1="222.40" y1="490.88" x2="228.40" y2="490.88" stroke="#484848" stroke-width="1.1"/>
<line x1="222.40" y1="466.27" x2="228.40" y2="466.27" stroke="#484848" stroke-width="1.1"/>
<line x1="222.40" y1="441.65" x2="228.40" y2="441.65" stroke="#484848" stroke-width="1.1"/>
<line x1="222.40" y1="417.04" x2="228.40" y2="417.04" stroke="#484848" stroke-width="1.1"/>
<line x1="222.40" y1="392.42" x2="228.40" y2="392.42" stroke="#484848" stroke-width="1.1"/>
<line x1="222.40" y1="367.81" x2="228.40" y2="367.81" stroke="#484848" stroke-width="1.1"/>
<line x1="233.83" y1="515.50" x2="233.83" y2="510.00" stroke="#484848" stroke-width="1.1"/>
<line x1="262.40" y1="515.50" x2="262.40" y2="510.00" stroke="#484848" stroke-width="1.1"/>
<line x1="290.97" y1="515.50" x2="290.97" y2="510.00" stroke="#484848" stroke-width="1.1"/>
<line x1="319.54" y1="515.50" x2="319.54" y2="510.00" stroke="#484848" stroke-width="1.1"/>
<line x1="348.11" y1="515.50" x2="348.11" y2="510.00" stroke="#484848" stroke-width="1.1"/>
<line x1="376.69" y1="515.50" x2="376.69" y2="510.00" stroke="#484848" stroke-width="1.1"/>
<g stroke="#4848ff" stroke-width="1"><line x1="233.83" y1="463.07" x2="233.83" y2="485.22"/><line x1="231.83" y1="463.07" x2="235.83" y2="463.07" stroke-width="1.3"/><line x1="231.83" y1="485.22" x2="235.83" y2="485.22" stroke-width="1.3"/></g>
<g stroke="#4848ff" stroke-width="1"><line x1="268.11" y1="434.64" x2="268.11" y2="463.68"/><line x1="266.11" y1="434.64" x2="270.11" y2="434.64" stroke-width="1.3"/><line x1="266.11" y1="463.68" x2="270.11" y2="463.68" stroke-width="1.3"/></g>
<polyline points="233.83,474.15 268.11,453.84 365.26,464.42" fill="none" stroke="#1a1aff" stroke-width="1.7" stroke-linejoin="round"/>
<rect x="231.33" y="471.65" width="5.00" height="5.00" fill="#fff" stroke="#1a1aff" stroke-width="1.2"/>
<rect x="265.61" y="451.34" width="5.00" height="5.00" fill="#fff" stroke="#1a1aff" stroke-width="1.2"/>
<rect x="362.76" y="461.92" width="5.00" height="5.00" fill="#fff" stroke="#1a1aff" stroke-width="1.2"/>
<g stroke="#ff4848" stroke-width="1"><line x1="233.83" y1="459.25" x2="233.83" y2="483.87"/><line x1="231.83" y1="459.25" x2="235.83" y2="459.25" stroke-width="1.3"/><line x1="231.83" y1="483.87" x2="235.83" y2="483.87" stroke-width="1.3"/></g>
<g stroke="#ff4848" stroke-width="1"><line x1="268.11" y1="426.15" x2="268.11" y2="470.45"/><line x1="266.11" y1="426.15" x2="270.11" y2="426.15" stroke-width="1.3"/><line x1="266.11" y1="470.45" x2="270.11" y2="470.45" stroke-width="1.3"/></g>
<polyline points="233.83,471.56 268.11,448.30 365.26,454.70" fill="none" stroke="#ff1a1a" stroke-width="1.7" stroke-linejoin="round"/>
<polygon points="233.83,469.21 236.33,473.61 231.33,473.61" fill="#fff" stroke="#ff1a1a" stroke-width="1.2" stroke-linejoin="miter"/>
<polygon points="268.11,445.95 270.61,450.35 265.61,450.35" fill="#fff" stroke="#ff1a1a" stroke-width="1.2" stroke-linejoin="miter"/>
<polygon points="365.26,452.35 367.76,456.75 362.76,456.75" fill="#fff" stroke="#ff1a1a" stroke-width="1.2" stroke-linejoin="miter"/>
<g stroke="#4a4a4a" stroke-width="1"><line x1="233.83" y1="470.95" x2="233.83" y2="484.24"/><line x1="231.83" y1="470.95" x2="235.83" y2="470.95" stroke-width="1.3"/><line x1="231.83" y1="484.24" x2="235.83" y2="484.24" stroke-width="1.3"/></g>
<g stroke="#4a4a4a" stroke-width="1"><line x1="268.11" y1="442.76" x2="268.11" y2="474.27"/><line x1="266.11" y1="442.76" x2="270.11" y2="442.76" stroke-width="1.3"/><line x1="266.11" y1="474.27" x2="270.11" y2="474.27" stroke-width="1.3"/></g>
<polyline points="233.83,477.59 268.11,458.52 365.26,463.56" fill="none" stroke="#111111" stroke-width="1.7" stroke-linejoin="round"/>
<circle cx="233.83" cy="477.59" r="2.7" fill="#fff" stroke="#111111" stroke-width="1.35"/>
<circle cx="268.11" cy="458.52" r="2.7" fill="#fff" stroke="#111111" stroke-width="1.35"/>
<circle cx="365.26" cy="463.56" r="2.7" fill="#fff" stroke="#111111" stroke-width="1.35"/>
<text x="302.40" y="372.30" text-anchor="middle" font-size="10.5" font-weight="bold" font-style="italic">Parachlorella kessleri</text>
<text x="302.40" y="388.30" text-anchor="middle" font-size="11" font-weight="bold">250 µmol m<tspan font-size="6.5" dy="-5.6">−2</tspan><tspan dy="5.6"> s</tspan><tspan font-size="6.5" dy="-5.6">−1</tspan></text>
<line x1="382.40" y1="490.88" x2="388.40" y2="490.88" stroke="#484848" stroke-width="1.1"/>
<line x1="382.40" y1="466.27" x2="388.40" y2="466.27" stroke="#484848" stroke-width="1.1"/>
<line x1="382.40" y1="441.65" x2="388.40" y2="441.65" stroke="#484848" stroke-width="1.1"/>
<line x1="382.40" y1="417.04" x2="388.40" y2="417.04" stroke="#484848" stroke-width="1.1"/>
<line x1="382.40" y1="392.42" x2="388.40" y2="392.42" stroke="#484848" stroke-width="1.1"/>
<line x1="382.40" y1="367.81" x2="388.40" y2="367.81" stroke="#484848" stroke-width="1.1"/>
<line x1="393.83" y1="515.50" x2="393.83" y2="510.00" stroke="#484848" stroke-width="1.1"/>
<line x1="422.40" y1="515.50" x2="422.40" y2="510.00" stroke="#484848" stroke-width="1.1"/>
<line x1="450.97" y1="515.50" x2="450.97" y2="510.00" stroke="#484848" stroke-width="1.1"/>
<line x1="479.54" y1="515.50" x2="479.54" y2="510.00" stroke="#484848" stroke-width="1.1"/>
<line x1="508.11" y1="515.50" x2="508.11" y2="510.00" stroke="#484848" stroke-width="1.1"/>
<line x1="536.69" y1="515.50" x2="536.69" y2="510.00" stroke="#484848" stroke-width="1.1"/>
<g stroke="#4848ff" stroke-width="1"><line x1="428.11" y1="399.07" x2="428.11" y2="421.22"/><line x1="426.11" y1="399.07" x2="430.11" y2="399.07" stroke-width="1.3"/><line x1="426.11" y1="421.22" x2="430.11" y2="421.22" stroke-width="1.3"/></g>
<polyline points="393.83,440.30 428.11,410.15 525.26,435.38" fill="none" stroke="#1a1aff" stroke-width="1.7" stroke-linejoin="round"/>
<rect x="391.33" y="437.80" width="5.00" height="5.00" fill="#fff" stroke="#1a1aff" stroke-width="1.2"/>
<rect x="425.61" y="407.65" width="5.00" height="5.00" fill="#fff" stroke="#1a1aff" stroke-width="1.2"/>
<rect x="522.76" y="432.88" width="5.00" height="5.00" fill="#fff" stroke="#1a1aff" stroke-width="1.2"/>
<g stroke="#ff4848" stroke-width="1"><line x1="393.83" y1="436.73" x2="393.83" y2="449.04"/><line x1="391.83" y1="436.73" x2="395.83" y2="436.73" stroke-width="1.3"/><line x1="391.83" y1="449.04" x2="395.83" y2="449.04" stroke-width="1.3"/></g>
<polyline points="393.83,442.88 428.11,416.67 525.26,439.68" fill="none" stroke="#ff1a1a" stroke-width="1.7" stroke-linejoin="round"/>
<polygon points="393.83,440.53 396.33,444.93 391.33,444.93" fill="#fff" stroke="#ff1a1a" stroke-width="1.2" stroke-linejoin="miter"/>
<polygon points="428.11,414.32 430.61,418.72 425.61,418.72" fill="#fff" stroke="#ff1a1a" stroke-width="1.2" stroke-linejoin="miter"/>
<polygon points="525.26,437.33 527.76,441.73 522.76,441.73" fill="#fff" stroke="#ff1a1a" stroke-width="1.2" stroke-linejoin="miter"/>
<g stroke="#4a4a4a" stroke-width="1"><line x1="525.26" y1="419.87" x2="525.26" y2="429.72"/><line x1="523.26" y1="419.87" x2="527.26" y2="419.87" stroke-width="1.3"/><line x1="523.26" y1="429.72" x2="527.26" y2="429.72" stroke-width="1.3"/></g>
<polyline points="393.83,434.02 428.11,420.85 525.26,424.79" fill="none" stroke="#111111" stroke-width="1.7" stroke-linejoin="round"/>
<circle cx="393.83" cy="434.02" r="2.7" fill="#fff" stroke="#111111" stroke-width="1.35"/>
<circle cx="428.11" cy="420.85" r="2.7" fill="#fff" stroke="#111111" stroke-width="1.35"/>
<circle cx="525.26" cy="424.79" r="2.7" fill="#fff" stroke="#111111" stroke-width="1.35"/>
<text x="462.40" y="372.30" text-anchor="middle" font-size="10.5" font-weight="bold" font-style="italic">Parachlorella kessleri</text>
<text x="462.40" y="388.30" text-anchor="middle" font-size="11" font-weight="bold">500 µmol m<tspan font-size="6.5" dy="-5.6">−2</tspan><tspan dy="5.6"> s</tspan><tspan font-size="6.5" dy="-5.6">−1</tspan></text>
<text x="56.6" y="494.78" text-anchor="end" font-size="11" font-weight="bold">20</text>
<text x="56.6" y="470.17" text-anchor="end" font-size="11" font-weight="bold">40</text>
<text x="56.6" y="445.55" text-anchor="end" font-size="11" font-weight="bold">60</text>
<text x="56.6" y="420.94" text-anchor="end" font-size="11" font-weight="bold">80</text>
<text x="56.6" y="396.32" text-anchor="end" font-size="11" font-weight="bold">100</text>
<text x="56.6" y="371.71" text-anchor="end" font-size="11" font-weight="bold">120</text>
<text transform="translate(31.0,436.10) rotate(-90)" text-anchor="middle" font-size="11.2" font-weight="bold">cell volume, µm<tspan font-size="6.4" dy="-5.5">3</tspan></text>
<text x="2.2" y="367.50" font-size="16" font-weight="bold" fill="#000">C</text>
<line x1="61.90" y1="4.6" x2="543.00" y2="4.6" stroke="#484848" stroke-width="1.3"/>
<line x1="61.90" y1="165.0" x2="543.00" y2="165.0" stroke="#3a3a3a" stroke-width="1.3"/>
<line x1="61.90" y1="180.0" x2="543.00" y2="180.0" stroke="#3a3a3a" stroke-width="1.3"/>
<line x1="61.90" y1="340.4" x2="543.00" y2="340.4" stroke="#6a6a6a" stroke-width="1.3"/>
<line x1="61.90" y1="355.5" x2="543.00" y2="355.5" stroke="#484848" stroke-width="1.3"/>
<line x1="61.90" y1="516.0" x2="543.00" y2="516.0" stroke="#555555" stroke-width="1.4"/>
<line x1="62.50" y1="4.00" x2="62.50" y2="165.60" stroke="#8a8a8a" stroke-width="1.3"/>
<line x1="222.40" y1="4.00" x2="222.40" y2="165.60" stroke="#484848" stroke-width="1.3"/>
<line x1="382.40" y1="4.00" x2="382.40" y2="165.60" stroke="#484848" stroke-width="1.3"/>
<line x1="542.40" y1="4.00" x2="542.40" y2="165.60" stroke="#484848" stroke-width="1.3"/>
<line x1="62.50" y1="179.40" x2="62.50" y2="341.00" stroke="#8a8a8a" stroke-width="1.3"/>
<line x1="222.40" y1="179.40" x2="222.40" y2="341.00" stroke="#484848" stroke-width="1.3"/>
<line x1="382.40" y1="179.40" x2="382.40" y2="341.00" stroke="#484848" stroke-width="1.3"/>
<line x1="542.40" y1="179.40" x2="542.40" y2="341.00" stroke="#484848" stroke-width="1.3"/>
<line x1="62.50" y1="354.90" x2="62.50" y2="516.60" stroke="#8a8a8a" stroke-width="1.3"/>
<line x1="222.40" y1="354.90" x2="222.40" y2="516.60" stroke="#484848" stroke-width="1.3"/>
<line x1="382.40" y1="354.90" x2="382.40" y2="516.60" stroke="#484848" stroke-width="1.3"/>
<line x1="542.40" y1="354.90" x2="542.40" y2="516.60" stroke="#484848" stroke-width="1.3"/>
<text x="73.93" y="531.7" text-anchor="middle" font-size="11" font-weight="bold">0</text>
<text x="102.50" y="531.7" text-anchor="middle" font-size="11" font-weight="bold">5</text>
<text x="131.07" y="531.7" text-anchor="middle" font-size="11" font-weight="bold">10</text>
<text x="159.64" y="531.7" text-anchor="middle" font-size="11" font-weight="bold">15</text>
<text x="188.21" y="531.7" text-anchor="middle" font-size="11" font-weight="bold">20</text>
<text x="216.79" y="531.7" text-anchor="middle" font-size="11" font-weight="bold">25</text>
<text x="142.50" y="545.8" text-anchor="middle" font-size="11" font-weight="bold">Time, h</text>
<text x="233.83" y="531.7" text-anchor="middle" font-size="11" font-weight="bold">0</text>
<text x="262.40" y="531.7" text-anchor="middle" font-size="11" font-weight="bold">5</text>
<text x="290.97" y="531.7" text-anchor="middle" font-size="11" font-weight="bold">10</text>
<text x="319.54" y="531.7" text-anchor="middle" font-size="11" font-weight="bold">15</text>
<text x="348.11" y="531.7" text-anchor="middle" font-size="11" font-weight="bold">20</text>
<text x="376.69" y="531.7" text-anchor="middle" font-size="11" font-weight="bold">25</text>
<text x="302.40" y="545.8" text-anchor="middle" font-size="11" font-weight="bold">Time, h</text>
<text x="393.83" y="531.7" text-anchor="middle" font-size="11" font-weight="bold">0</text>
<text x="422.40" y="531.7" text-anchor="middle" font-size="11" font-weight="bold">5</text>
<text x="450.97" y="531.7" text-anchor="middle" font-size="11" font-weight="bold">10</text>
<text x="479.54" y="531.7" text-anchor="middle" font-size="11" font-weight="bold">15</text>
<text x="508.11" y="531.7" text-anchor="middle" font-size="11" font-weight="bold">20</text>
<text x="536.69" y="531.7" text-anchor="middle" font-size="11" font-weight="bold">25</text>
<text x="462.40" y="545.8" text-anchor="middle" font-size="11" font-weight="bold">Time, h</text>
<line x1="85.3" y1="55.9" x2="105.4" y2="55.9" stroke="#1a1aff" stroke-width="1.3"/>
<rect x="92.90" y="53.40" width="5.00" height="5.00" fill="#fff" stroke="#1a1aff" stroke-width="1.2"/>
<text x="109.9" y="59.00" font-size="8.5" fill="#222">RGB LEDs</text>
<line x1="85.3" y1="66.9" x2="105.4" y2="66.9" stroke="#ff1a1a" stroke-width="1.3"/>
<polygon points="95.40,64.55 97.90,68.95 92.90,68.95" fill="#fff" stroke="#ff1a1a" stroke-width="1.2" stroke-linejoin="miter"/>
<text x="109.9" y="70.00" font-size="8.5" fill="#222">white LEDs</text>
<line x1="85.3" y1="78.0" x2="105.4" y2="78.0" stroke="#111111" stroke-width="1.3"/>
<circle cx="95.40" cy="78.00" r="2.7" fill="#fff" stroke="#111111" stroke-width="1.35"/>
<text x="109.9" y="81.10" font-size="8.5" fill="#222">fluorescent lamps</text>
</svg>
</body></html>
